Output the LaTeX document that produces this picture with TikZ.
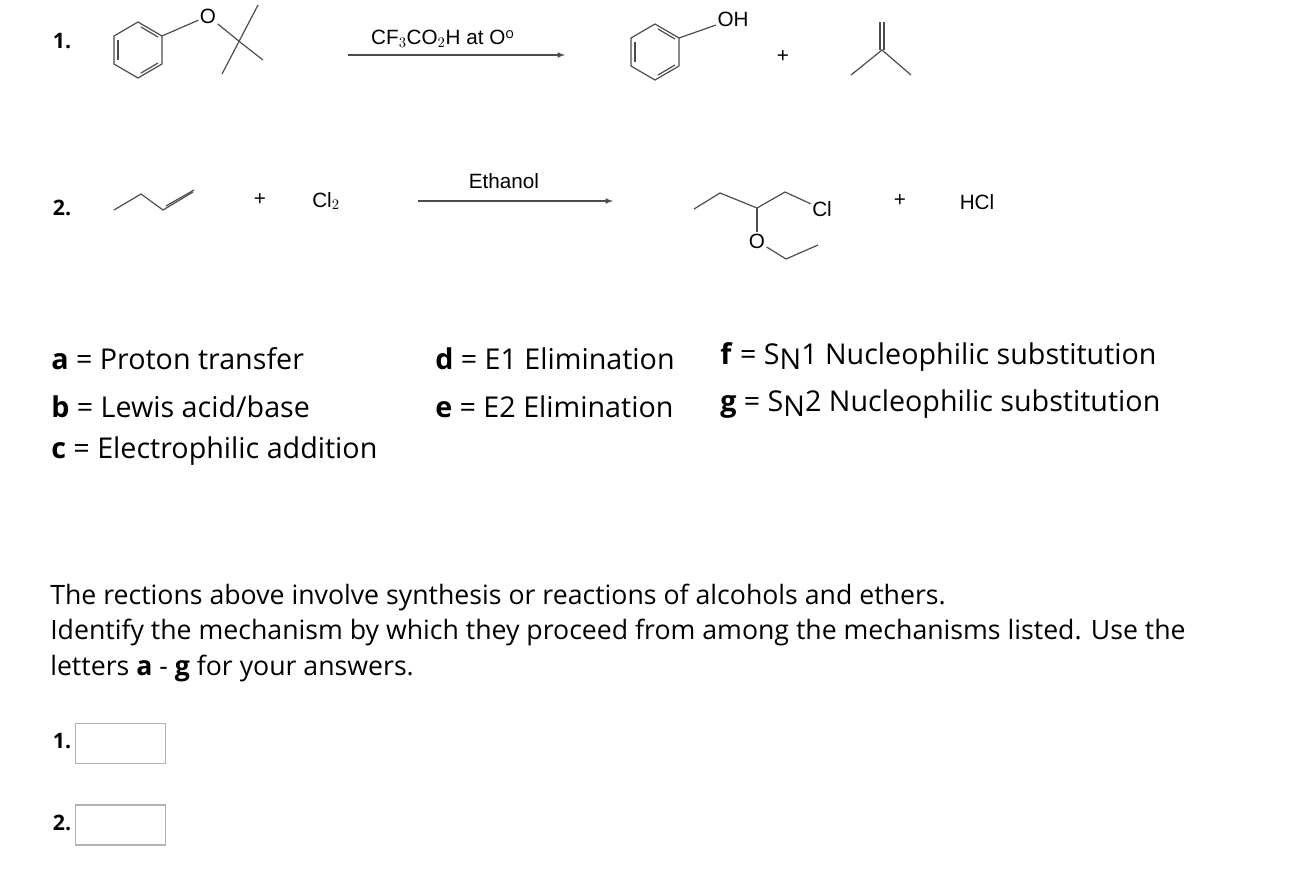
\documentclass[tikz,border=0pt]{standalone}
\usepackage{fontspec}
\setmainfont{Open Sans}
\newfontfamily\chem{Liberation Sans}
\begin{document}
\begin{tikzpicture}[x=0.75pt,y=-0.75pt,
  bond/.style={line width=0.9pt,gray!60!black},
  lab/.style={font=\chem\fontsize{15.5}{16}\selectfont,inner sep=1pt},
  txt/.style={anchor=west,font=\fontsize{20}{22}\selectfont,inner sep=0pt},
  mech/.style={anchor=west,font=\fontsize{21.5}{24}\selectfont,inner sep=0pt},
  num/.style={font=\bfseries\fontsize{16}{18}\selectfont,inner sep=0pt},
  ansbox/.style={draw=gray!60,line width=0.8pt}]
\useasboundingbox (0,0) rectangle (1298,872);
\newcommand\ring[2]{%
  \draw[bond] (#1,#2-28)--(#1+24,#2-14)--(#1+24,#2+14)--(#1,#2+28)--(#1-24,#2+14)--(#1-24,#2-14)--cycle;
  \draw[bond] (#1-20,#2-10)--(#1-20,#2+10);
  \draw[bond] (#1+3,#2-23)--(#1+20,#2-13);
  \draw[bond] (#1+3,#2+23)--(#1+20,#2+13);}
% row 1
\node[num] (n1) at (62,41) {1.};
\ring{138}{50}
\node[lab] (o1) at (208,16) {O};
\draw[bond] (162,36)--(o1);
\coordinate (q) at (240,42);
\draw[bond] (o1)--(q);
\draw[bond] (258,5)--(222,74);
\draw[bond] (q)--(263,60);
\node[lab] (r1) at (443,39) {CF$_3$CO$_2$H at O$^\mathrm{o}$};
\coordinate (a1s) at (348,55); \coordinate (a1e) at (565,55);
\draw[bond,-latex] (a1s)--(a1e);
\ring{655}{52}
\node[lab] (oh) at (733,19) {OH};
\draw[bond] (679,38)--(oh);
\node[lab] (p1) at (783,57) {+};
\draw[bond] (880,22)--(880,50); \draw[bond] (884,22)--(884,50);
\draw[bond] (851,75)--(882,50)--(911,75);
% row 2
\node[num] (n2) at (62,208) {2.};
\draw[bond] (114,210)--(141,194)--(163,210)--(193,192);
\draw[bond] (166,206)--(194,190);
\node[lab] (p2) at (260,200) {+};
\node[lab] (cl2) at (326,201) {Cl$_2$};
\node[lab] (r2) at (504,181) {Ethanol};
\coordinate (a2s) at (418,201); \coordinate (a2e) at (613,201);
\draw[bond,-latex] (a2s)--(a2e);
\node[lab] (cl) at (822,209) {Cl};
\node[lab] (o2) at (757,241) {O};
\draw[bond] (694,209)--(720,193)--(757,208)--(785,192)--(cl);
\draw[bond] (757,208)--(o2);
\draw[bond] (o2)--(786,259)--(818,245);
\node[lab] (p3) at (900,201) {+};
\node[lab] (hcl) at (977,202) {HCl};
% mechanisms
\node[mech] (ta) at (51,359) {\textbf{a} = Proton transfer};
\node[mech] (tb) at (51,407) {\textbf{b} = Lewis acid/base};
\node[mech] (tc) at (51,451) {\textbf{c} = Electrophilic addition};
\node[mech] (td) at (435,359) {\textbf{d} = E1 Elimination};
\node[mech] (te) at (435,407) {\textbf{e} = E2 Elimination};
\node[mech] (tf) at (720,357) {\textbf{f} = S\raisebox{-0.35ex}{N}1 Nucleophilic substitution};
\node[mech] (tg) at (720,404) {\textbf{g} = S\raisebox{-0.35ex}{N}2 Nucleophilic substitution};
\node[txt] (l1) at (50,597) {The rections above involve synthesis or reactions of alcohols and ethers.};
\node[txt] (l2) at (50,632) {Identify the mechanism by which they proceed from among the mechanisms listed. Use the};
\node[txt] (l3) at (50,668) {letters \textbf{a} - \textbf{g} for your answers.};
\node[num] (q1) at (62,741) {1.};
\node[ansbox,minimum width=68pt,minimum height=30.5pt,inner sep=0pt] (b1) at (120.5,743.5) {};
\node[num] (q2) at (62,823) {2.};
\node[ansbox,minimum width=68pt,minimum height=30pt,inner sep=0pt] (b2) at (120.5,825) {};
\end{tikzpicture}
\end{document}
